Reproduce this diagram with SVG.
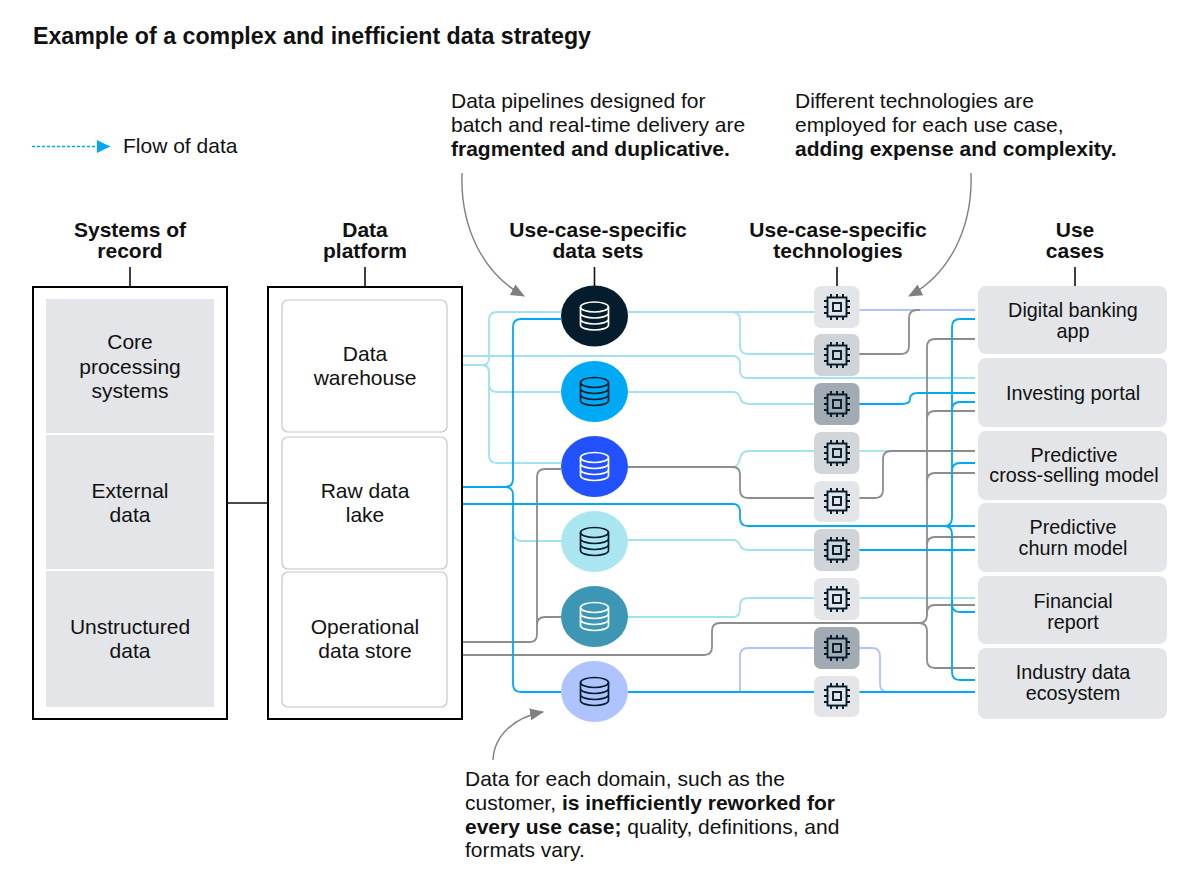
<svg xmlns="http://www.w3.org/2000/svg" width="1200" height="877" viewBox="0 0 1200 877">
<style>
text{font-family:"Liberation Sans",Arial,sans-serif;font-size:21px;fill:#111}
.b{font-weight:700}
.m{text-anchor:middle}
.u{font-size:19.800px}
.c{fill:none;stroke-width:1.8}
.lt{stroke:#a2e2f0}
.bl{stroke:#00a9f4}
.gr{stroke:#8c8c8c}
.pe{stroke:#afc3ff}
.bk{stroke:#111;stroke-width:1.6;fill:none}
.ar{fill:none;stroke:#7f7f7f;stroke-width:1.4;marker-end:url(#gh)}
.box{fill:#fff;stroke:#000;stroke-width:2}
.gb{fill:#e3e5e8}
.wb{fill:#fff;stroke:#c4c6c9;stroke-width:1.2}
.ch{stroke:#051c2c;stroke-width:1.9;fill:none}
.dw{stroke:#fff;stroke-width:1.7;fill:none}
.dk{stroke:#051c2c;stroke-width:1.7;fill:none}
</style>
<defs>
<marker id="gh" markerWidth="15" markerHeight="13" refX="13" refY="6" orient="auto" markerUnits="userSpaceOnUse"><path d="M0 0L14 6L0 12Z" fill="#7f7f7f"/></marker>
<marker id="bh" markerWidth="14" markerHeight="13" refX="13" refY="6.5" orient="auto" markerUnits="userSpaceOnUse"><path d="M0 0L13 6.500L0 13Z" fill="#00a9f4"/></marker>
<g id="chip"><rect x="-9.500" y="-9.500" width="19" height="19"/><rect x="-4" y="-4" width="8" height="8"/><path d="M-6-9.500V-13M0-9.500V-13M6-9.500V-13M-6 9.500V13M0 9.500V13M6 9.500V13M-9.500-6H-13M-9.500 0H-13M-9.500 6H-13M9.500-6H13M9.500 0H13M9.500 6H13"/></g>
<g id="db"><ellipse cx="0" cy="-9" rx="14" ry="5"/><path d="M-14-9V9C-14 12 -7 14 0 14S14 12 14 9V-9M-14-3C-14 0 -7 2 0 2S14 0 14-3M-14 3C-14 6 -7 8 0 8S14 6 14 3"/></g>
</defs>

<text class="b" x="33" y="44" style="font-size:23.200px">Example of a complex and inefficient data strategy</text>

<g id="legend">
<line x1="32" y1="146.500" x2="110" y2="146.500" stroke="#00a9f4" stroke-width="1.500" stroke-dasharray="3 2" marker-end="url(#bh)"/>
<text x="123" y="153">Flow of data</text>
</g>

<g id="connectors">
<path class="bk" d="M227 503H268M130 267V287M365 267V287M594.500 267V290M837 267V290M1075 267V287"/>
<path class="c lt" d="M462 356H733Q740 356 740 364V371Q740 378 748 378H975"/>
<path class="c lt" d="M462 365H482Q489 365 489 358V320Q489 312 497 312H561"/>
<path class="c lt" d="M462 365H482Q489 365 489 372V384Q489 392 497 392H561"/>
<path class="c lt" d="M482 365Q489 365 489 372V455Q489 463 497 463H561"/>
<path class="c lt" d="M628 312H814"/>
<path class="c lt" d="M732 312Q740 312 740 320V346Q740 354 748 354H814"/>
<path class="c lt" d="M628 392H733Q738 392 740 397Q741 404 749 404H814"/>
<path class="c lt" d="M628 467H733Q738 467 740 459Q741 451 749 451H814"/>
<path class="c lt" d="M859 451H890"/>
<path class="c lt" d="M513 530Q513 541 522 541H561"/>
<path class="c lt" d="M628 540H733Q738 540 740 545Q741 550 749 550H814"/>
<path class="c lt" d="M628 617H733Q740 617 740 609V606Q740 598 748 598H814"/>
<path class="c lt" d="M859 598H975"/>
<path class="c pe" d="M859 310H975"/>
<path class="c pe" d="M740 692V656Q740 648 748 648H814"/>
<path class="c pe" d="M859 648H872Q880 648 880 656V684Q880 692 888 692"/>
<path class="c gr" d="M628 467H733Q740 467 740 475V490Q740 498 748 498H814"/>
<path class="c gr" d="M462 642H530Q537 642 537 634V477Q537 469 545 469H561"/>
<path class="c gr" d="M537 625Q537 617 545 617H561"/>
<path class="c gr" d="M462 655H704Q712 655 712 647V631Q712 623 720 623H919Q927 623 927 615V347Q927 339 935 339H975"/>
<path class="c gr" d="M927 419Q927 411 935 411H975"/>
<path class="c gr" d="M927 481Q927 473 935 473H975"/>
<path class="c gr" d="M927 545Q927 537 935 537H975"/>
<path class="c gr" d="M927 613Q927 605 935 605H975"/>
<path class="c gr" d="M919 623Q927 623 927 631V660Q927 668 935 668H975"/>
<path class="c gr" d="M859 354H901Q909 354 909 346V318Q909 310 917 310H920"/>
<path class="c gr" d="M859 498H875Q883 498 883 490V459Q883 451 891 451H975"/>
<path class="c bl" d="M462 487H505Q513 487 513 479V327Q513 319 521 319H561"/>
<path class="c bl" d="M505 487Q513 487 513 495V684Q513 692 521 692H561"/>
<path class="c bl" d="M628 692H814M859 692H975"/>
<path class="c bl" d="M462 504H733Q740 504 740 512V518Q740 526 748 526H975"/>
<path class="c bl" d="M944 526Q952 526 952 518V327Q952 319 960 319H975"/>
<path class="c bl" d="M952 410Q952 402 960 402H975"/>
<path class="c bl" d="M952 471Q952 463 960 463H975"/>
<path class="c bl" d="M944 526Q952 526 952 534V604Q952 612 960 612H975"/>
<path class="c bl" d="M952 600V672Q952 680 960 680H975"/>
<path class="c bl" d="M859 404H902Q910 404 910 399Q910 393 918 393H975"/>
<path class="c bl" d="M859 550H975"/>
</g>

<g id="annotations">
<path class="ar" d="M462 173C460 230 485 275 524 296"/>
<path class="ar" d="M971 173C973 230 948 275 909 296"/>
<path class="ar" d="M493 760C494 735 515 717 543 712"/>
<text x="451" y="108">Data pipelines designed for</text>
<text x="451" y="132">batch and real-time delivery are</text>
<text x="451" y="156" class="b">fragmented and duplicative.</text>
<text x="795" y="108">Different technologies are</text>
<text x="795" y="132">employed for each use case,</text>
<text x="795" y="156" class="b">adding expense and complexity.</text>
<text x="465" y="786">Data for each domain, such as the</text>
<text x="465" y="810">customer, <tspan class="b">is inefficiently reworked for</tspan></text>
<text x="465" y="834"><tspan class="b">every use case;</tspan> quality, definitions, and</text>
<text x="465" y="857">formats vary.</text>
</g>

<g id="headers">
<text class="b m" x="130" y="237">Systems of</text><text class="b m" x="130" y="258">record</text>
<text class="b m" x="365" y="237">Data</text><text class="b m" x="365" y="258">platform</text>
<text class="b m" x="598" y="237">Use-case-specific</text><text class="b m" x="598" y="258">data sets</text>
<text class="b m" x="838" y="237">Use-case-specific</text><text class="b m" x="838" y="258">technologies</text>
<text class="b m" x="1075" y="237">Use</text><text class="b m" x="1075" y="258">cases</text>
</g>

<g id="systems-of-record">
<rect class="box" x="33" y="287" width="194" height="432"/>
<g id="core"><rect class="gb" x="46" y="299" width="168" height="134"/><text class="m" x="130" y="349">Core</text><text class="m" x="130" y="374">processing</text><text class="m" x="130" y="398">systems</text></g>
<g id="external"><rect class="gb" x="46" y="435" width="168" height="134"/><text class="m" x="130" y="498">External</text><text class="m" x="130" y="522">data</text></g>
<g id="unstructured"><rect class="gb" x="46" y="571" width="168" height="136"/><text class="m" x="130" y="634">Unstructured</text><text class="m" x="130" y="658">data</text></g>
</g>

<g id="data-platform">
<rect class="box" x="268" y="287" width="194" height="432"/>
<g id="warehouse"><rect class="wb" x="282" y="300" width="165" height="132" rx="6"/><text class="m" x="365" y="361">Data</text><text class="m" x="365" y="385">warehouse</text></g>
<g id="lake"><rect class="wb" x="282" y="437" width="165" height="132" rx="6"/><text class="m" x="365" y="498">Raw data</text><text class="m" x="365" y="522">lake</text></g>
<g id="store"><rect class="wb" x="282" y="572" width="165" height="135" rx="6"/><text class="m" x="365" y="634">Operational</text><text class="m" x="365" y="658">data store</text></g>
</g>

<g id="set-1"><ellipse cx="594.500" cy="316" rx="33.500" ry="30.500" fill="#051c2c"/><use href="#db" x="594.500" y="316" class="dw"/></g>
<g id="set-2"><ellipse cx="594.500" cy="391.500" rx="33.500" ry="30.500" fill="#00a9f4"/><use href="#db" x="594.500" y="391.500" class="dk"/></g>
<g id="set-3"><ellipse cx="594.500" cy="466.500" rx="33.500" ry="30.500" fill="#2251ff"/><use href="#db" x="594.500" y="466.500" class="dw"/></g>
<g id="set-4"><ellipse cx="594.500" cy="541.500" rx="33.500" ry="30.500" fill="#aae6f0"/><use href="#db" x="594.500" y="541.500" class="dk"/></g>
<g id="set-5"><ellipse cx="594.500" cy="616.500" rx="33.500" ry="30.500" fill="#3c96b4"/><use href="#db" x="594.500" y="616.500" class="dw"/></g>
<g id="set-6"><ellipse cx="594.500" cy="691.500" rx="33.500" ry="30.500" fill="#afc3ff"/><use href="#db" x="594.500" y="691.500" class="dk"/></g>

<g id="tech-1"><rect x="814" y="286" width="45.500" height="42" rx="7" fill="#e3e5e8"/><use href="#chip" x="837" y="307" class="ch"/></g>
<g id="tech-2"><rect x="814" y="334" width="45.500" height="42" rx="7" fill="#d0d3d7"/><use href="#chip" x="837" y="355" class="ch"/></g>
<g id="tech-3"><rect x="814" y="383" width="45.500" height="42" rx="7" fill="#a2aab3"/><use href="#chip" x="837" y="404" class="ch"/></g>
<g id="tech-4"><rect x="814" y="432" width="45.500" height="42" rx="7" fill="#d3d6d9"/><use href="#chip" x="837" y="453" class="ch"/></g>
<g id="tech-5"><rect x="814" y="481" width="45.500" height="41" rx="7" fill="#e3e5e8"/><use href="#chip" x="837" y="501" class="ch"/></g>
<g id="tech-6"><rect x="814" y="529" width="45.500" height="42" rx="7" fill="#d0d3d7"/><use href="#chip" x="837" y="550" class="ch"/></g>
<g id="tech-7"><rect x="814" y="578" width="45.500" height="42" rx="7" fill="#e3e5e8"/><use href="#chip" x="837" y="599" class="ch"/></g>
<g id="tech-8"><rect x="814" y="627" width="45.500" height="42" rx="7" fill="#a2aab3"/><use href="#chip" x="837" y="648" class="ch"/></g>
<g id="tech-9"><rect x="814" y="676" width="45.500" height="41" rx="7" fill="#e3e5e8"/><use href="#chip" x="837" y="696" class="ch"/></g>

<g id="use-1"><rect class="gb" x="978" y="286" width="189" height="68" rx="8"/><text class="m u" x="1073" y="317">Digital banking</text><text class="m u" x="1073" y="338">app</text></g>
<g id="use-2"><rect class="gb" x="978" y="358" width="189" height="69" rx="8"/><text class="m u" x="1073" y="400">Investing portal</text></g>
<g id="use-3"><rect class="gb" x="978" y="431" width="189" height="69" rx="8"/><text class="m u" x="1074" y="462">Predictive</text><text class="m u" x="1074" y="482">cross-selling model</text></g>
<g id="use-4"><rect class="gb" x="978" y="503" width="189" height="69" rx="8"/><text class="m u" x="1073" y="534">Predictive</text><text class="m u" x="1073" y="555">churn model</text></g>
<g id="use-5"><rect class="gb" x="978" y="576" width="189" height="68" rx="8"/><text class="m u" x="1073" y="608">Financial</text><text class="m u" x="1073" y="629">report</text></g>
<g id="use-6"><rect class="gb" x="978" y="648" width="189" height="71" rx="8"/><text class="m u" x="1073" y="679">Industry data</text><text class="m u" x="1073" y="700">ecosystem</text></g>
</svg>
